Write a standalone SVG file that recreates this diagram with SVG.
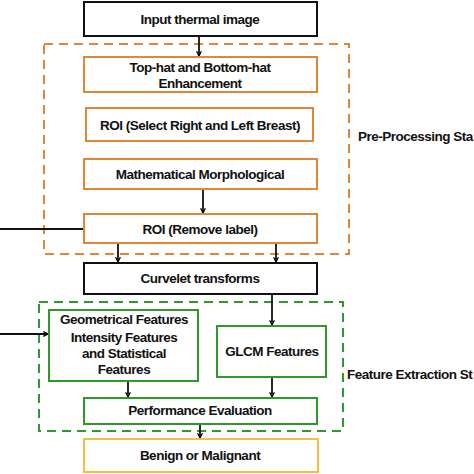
<svg xmlns="http://www.w3.org/2000/svg" width="474" height="474" viewBox="0 0 474 474">
<defs>
<marker id="ah" viewBox="0 0 10 10" refX="9" refY="5" markerWidth="6" markerHeight="6" orient="auto" markerUnits="userSpaceOnUse">
<path d="M1,1 L9,5 L1,9" fill="none" stroke="#000" stroke-width="2"/>
</marker>
</defs>
<style>
text{font-family:"Liberation Sans",Arial,sans-serif;font-weight:bold;font-size:13.5px;letter-spacing:-0.5px;fill:#111;text-anchor:middle;}
.lbl{text-anchor:start;}
.blk{fill:#fff;stroke:#111;stroke-width:2;}
.org{fill:#fff;stroke:#E0873A;stroke-width:2;}
.grn{fill:#fff;stroke:#2E9A2E;stroke-width:2;}
.yel{fill:#fff;stroke:#F2C040;stroke-width:2;}
.dorg{fill:none;stroke:#E0873A;stroke-width:2;stroke-dasharray:9,6;}
.dgrn{fill:none;stroke:#2E9A2E;stroke-width:2;stroke-dasharray:9,6;}
.c{fill:none;stroke:#111;stroke-width:1.8;}
</style>
<rect width="474" height="474" fill="#fff"/>
<g id="preprocessing-stage">
<rect class="dorg" x="44" y="44" width="305" height="210"/>
<text class="lbl" x="358" y="141">Pre-Processing Sta</text>
</g>
<g id="feature-extraction-stage">
<rect class="dgrn" x="39" y="302" width="304" height="129"/>
<text class="lbl" x="347" y="379">Feature Extraction St</text>
</g>
<g id="connectors">
<line class="c" x1="199" y1="36" x2="199" y2="56" marker-end="url(#ah)"/>
<line class="c" x1="203" y1="189" x2="203" y2="213" marker-end="url(#ah)"/>
<line class="c" x1="0" y1="229" x2="83" y2="229"/>
<line class="c" x1="118" y1="243" x2="118" y2="262" marker-end="url(#ah)"/>
<line class="c" x1="276" y1="243" x2="276" y2="262" marker-end="url(#ah)"/>
<line class="c" x1="272" y1="294" x2="272" y2="325" marker-end="url(#ah)"/>
<line class="c" x1="0" y1="334" x2="48" y2="334" marker-end="url(#ah)"/>
<line class="c" x1="128" y1="381" x2="128" y2="397" marker-end="url(#ah)"/>
<line class="c" x1="272" y1="377" x2="272" y2="397" marker-end="url(#ah)"/>
<line class="c" x1="200" y1="424" x2="200" y2="438" marker-end="url(#ah)"/>
</g>
<g id="input">
<rect class="blk" x="84" y="2" width="233" height="34"/>
<text x="200" y="24">Input thermal image</text>
</g>
<g id="tophat">
<rect class="org" x="84" y="57" width="233" height="35"/>
<text x="200" y="72">Top-hat and Bottom-hat</text>
<text x="200" y="88">Enhancement</text>
</g>
<g id="roi-select">
<rect class="org" x="86" y="108" width="227" height="33"/>
<text x="200" y="130">ROI (Select Right and Left Breast)</text>
</g>
<g id="morph">
<rect class="org" x="84" y="159" width="233" height="30"/>
<text x="200" y="179">Mathematical Morphological</text>
</g>
<g id="roi-remove">
<rect class="org" x="84" y="214" width="233" height="29"/>
<text x="200" y="234">ROI (Remove label)</text>
</g>
<g id="curvelet">
<rect class="blk" x="84" y="263" width="233" height="31"/>
<text x="200" y="283">Curvelet transforms</text>
</g>
<g id="geometrical">
<rect class="grn" x="49" y="310" width="149" height="71"/>
<text x="124" y="324">Geometrical Features</text>
<text x="124" y="342">Intensity  Features</text>
<text x="124" y="358">and Statistical</text>
<text x="124" y="374">Features</text>
</g>
<g id="glcm">
<rect class="grn" x="217" y="326" width="109" height="51"/>
<text x="272" y="356">GLCM Features</text>
</g>
<g id="performance">
<rect class="grn" x="84" y="398" width="233" height="26"/>
<text x="200" y="415">Performance Evaluation</text>
</g>
<g id="result">
<rect class="yel" x="84" y="439" width="234" height="33"/>
<text x="200" y="460">Benign or Malignant</text>
</g>
</svg>
